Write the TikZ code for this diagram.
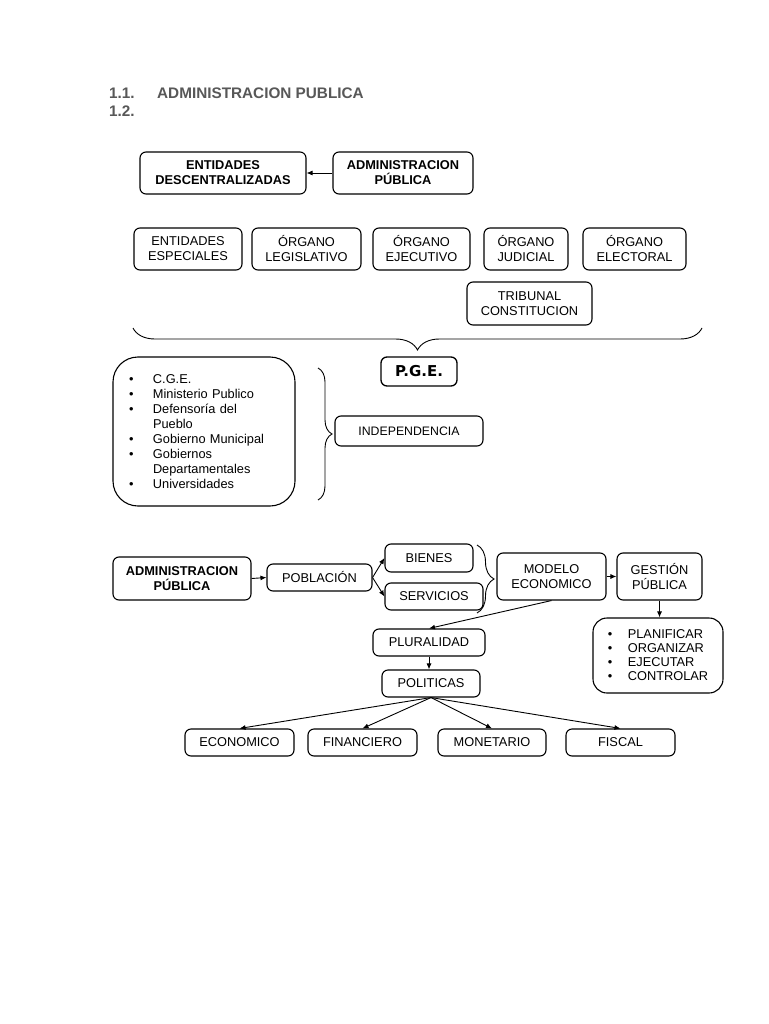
\documentclass[tikz,border=0pt]{standalone}
\usepackage{fontspec}
\setmainfont{Liberation Sans}
\newfontfamily\pgefont{DejaVu Sans}
\usetikzlibrary{arrows.meta,decorations.pathreplacing}

\definecolor{gris}{HTML}{585858}
\newcommand{\punto}[1][22pt]{\makebox[#1][l]{\textbullet}}

\tikzset{
  caja/.style={draw, rounded corners=6pt, line width=1.1pt, align=center, inner sep=0pt,
    font=\fontsize{12.8}{15}\selectfont},
  cajan/.style={caja, font=\fontsize{12.8}{15}\selectfont\bfseries},
  titulo/.style={anchor=base west, inner sep=0pt, text=gris, font=\fontsize{15.3}{18}\selectfont\bfseries},
  flecha/.style={-{Latex[length=6pt,width=5pt]}, line width=0.9pt},
  llave/.style={decorate, decoration={brace, amplitude=#1}, line width=0.9pt}
}

\begin{document}
\begin{tikzpicture}[x=1pt, y=-1pt]
  % Define the page
  \fill[white] (0,0) rectangle (768,1024);

  % Headings
  \node[titulo] (n11) at (109,99) {1.1.};
  \node[titulo] (tit) at (157,99) {ADMINISTRACION PUBLICA};
  \node[titulo] (n12) at (109,117) {1.2.};

  % Top pair
  \node[cajan, minimum width=166pt, minimum height=42pt] (ent) at (223,173) {ENTIDADES\\DESCENTRALIZADAS};
  \node[cajan, minimum width=140pt, minimum height=42pt] (adm) at (403,173) {ADMINISTRACION\\PÚBLICA};
  \draw[flecha] (adm.west) -- (ent.east);

  % Row of organs
  \foreach \n/\cx/\w/\t in {esp/188/108/{ENTIDADES\\ESPECIALES}, leg/306.5/109/{ÓRGANO\\LEGISLATIVO},
      eje/421.5/97/{ÓRGANO\\EJECUTIVO}, jud/526/84/{ÓRGANO\\JUDICIAL}, ele/634.5/103/{ÓRGANO\\ELECTORAL}}
    \node[caja, minimum width=\w pt, minimum height=42pt] (\n) at (\cx,249) {\t};
  \node[caja, minimum width=125pt, minimum height=43pt] (tri) at (529.5,303.5) {TRIBUNAL\\CONSTITUCION};

  % Brace over everything
  \draw[llave=22pt] (702,328) -- (133,328);
  \node[caja, line width=1.3pt, font=\pgefont\bfseries\fontsize{15}{17}\selectfont,
    minimum width=76pt, minimum height=29pt] (pge) at (419,371.5) {P.G.E.};

  % Independent entities
  \node[caja, rounded corners=25pt, minimum width=182pt, minimum height=149pt, text width=150pt,
    align=left, inner xsep=16pt, font=\fontsize{12.8}{15}\selectfont] (cge) at (204,431.5) {%
    \punto[24pt]C.G.E.\\
    \punto[24pt]Ministerio Publico\\
    \punto[24pt]Defensoría del\\
    \hspace*{24pt}Pueblo\\
    \punto[24pt]Gobierno Municipal\\
    \punto[24pt]Gobiernos\\
    \hspace*{24pt}Departamentales\\
    \punto[24pt]Universidades\\[3pt]};
  \draw[llave=14pt] (318,368) -- (318,500);
  \node[caja, minimum width=148pt, minimum height=30pt, font=\fontsize{12.3}{14}\selectfont] (ind) at (409,431) {INDEPENDENCIA};

  % Lower chart
  \node[cajan, minimum width=138pt, minimum height=43pt] (adm2) at (182,578.5) {ADMINISTRACION\\PÚBLICA};
  \node[caja, minimum width=105pt, minimum height=27pt] (pob) at (319.5,577.5) {POBLACIÓN};
  \node[caja, minimum width=88pt, minimum height=28pt] (bie) at (429,558) {BIENES};
  \node[caja, minimum width=98pt, minimum height=27pt] (ser) at (434,596.5) {SERVICIOS};
  \draw[llave=17pt] (477,545) -- (477,613);
  \node[caja, minimum width=109pt, minimum height=47pt] (mod) at (551.5,576.5) {MODELO\\ECONOMICO};
  \node[caja, minimum width=85pt, minimum height=47pt] (ges) at (659.5,576.5) {GESTIÓN\\PÚBLICA};
  \node[caja, rounded corners=14pt, minimum width=130pt, minimum height=75pt, align=left,
    font=\fontsize{12.8}{14}\selectfont] (plan) at (658,655.5) {%
    \punto[20pt]PLANIFICAR\\
    \punto[20pt]ORGANIZAR\\
    \punto[20pt]EJECUTAR\\
    \punto[20pt]CONTROLAR};
  \node[caja, minimum width=112pt, minimum height=27pt] (plu) at (429,642.5) {PLURALIDAD};
  \node[caja, minimum width=98pt, minimum height=27pt] (pol) at (431,683.5) {POLITICAS};

  \foreach \n/\cx/\w/\t in {eco/239.5/109/ECONOMICO, fin/362.5/109/FINANCIERO,
      mon/492/108/MONETARIO, fis/620.5/109/FISCAL}
    \node[caja, minimum width=\w pt, minimum height=27pt] (\n) at (\cx,742.5) {\t};

  % Connectors
  \draw[flecha] (adm2.east) -- (pob.west);
  \draw[flecha] (pob.east) -- (bie.west);
  \draw[flecha] (pob.east) -- (ser.west);
  \draw[flecha] (mod.east) -- (ges.west);
  \draw[flecha] (ges.south) -- (ges.south |- plan.north);
  \draw[flecha] (mod.south) -- (plu.north);
  \draw[flecha] (plu.south) -- (plu.south |- pol.north);
  \foreach \n in {eco,fin,mon,fis}
    \draw[flecha] (pol.south) -- (\n.north);

\end{tikzpicture}
\end{document}
